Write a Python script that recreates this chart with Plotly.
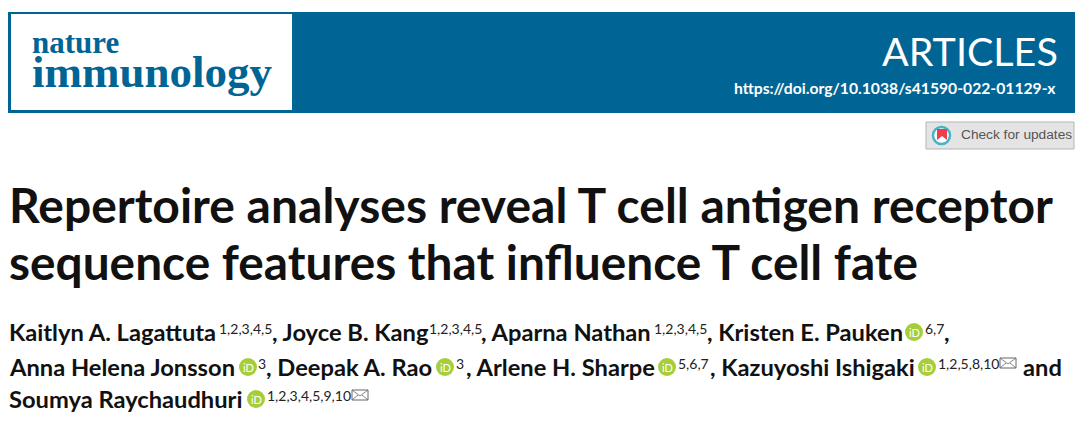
import plotly.graph_objects as go

BLUE = "#006595"
GREEN = "#a6ce39"

journal_top = "nature"
journal_bottom = "immunology"
section = "ARTICLES"
doi = "https://doi.org/10.1038/s41590-022-01129-x"
updates = "Check for updates"
title_lines = [
    "Repertoire analyses reveal T cell antigen receptor",
    "sequence features that influence T cell fate",
]
author_names = [
    "Kaitlyn A. Lagattuta", ", Joyce B. Kang", ", Aparna Nathan", ", Kristen E. Pauken",
    "Anna Helena Jonsson", ", Deepak A. Rao", ", Arlene H. Sharpe", ", Kazuyoshi Ishigaki",
    "Soumya Raychaudhuri",
]
author_affils = [
    "1,2,3,4,5", "1,2,3,4,5", "1,2,3,4,5", "6,7",
    "3", "3", "5,6,7", "1,2,5,8,10",
    "1,2,3,4,5,9,10",
]

fig = go.Figure()


def add_text(x, y, text, size, color="#111111", family="Lato", bold=False, anchor="left"):
    if bold:
        text = f"<b>{text}</b>"
    fig.add_annotation(x=x, y=y, text=text, showarrow=False, xanchor=anchor, yanchor="middle",
                       align="left", font=dict(size=size, color=color, family=family),
                       borderpad=0, borderwidth=0)


def add_box(x0, y0, x1, y1, fill, line=None, width=0):
    fig.add_shape(type="rect", x0=x0, y0=y0, x1=x1, y1=y1, fillcolor=fill,
                  line=dict(color=line or fill, width=width), layer="below")


def add_orcid(x, y):
    fig.add_shape(type="circle", x0=x - 9, y0=y - 9, x1=x + 9, y1=y + 9, fillcolor=GREEN,
                  line=dict(width=0), layer="below")
    add_text(x, y, "iD", 11, color="white", family="Lato", anchor="center")


def add_mail(x, y):
    fig.add_shape(type="rect", x0=x, y0=y - 5, x1=x + 16, y1=y + 5, fillcolor="white",
                  line=dict(color="#666666", width=1), layer="below")
    fig.add_shape(type="path", path=f"M {x} {y-5} L {x+8} {y+1} L {x+16} {y-5} M {x} {y+5} L {x+6} {y} M {x+16} {y+5} L {x+10} {y}",
                  line=dict(color="#666666", width=0.8), layer="below")


# banner
add_box(8, 12, 1075, 113, BLUE)
add_box(11, 14, 292, 110, "white")
# the two journal lines share one text so their boxes stay clear of each other
add_text(32, 61,
         f"<b><span style='font-size:31px'>{journal_top}</span><br>"
         f"<span style='font-size:45px'>{journal_bottom}</span></b>",
         26, color=BLUE, family="Liberation Serif")
add_text(1058, 50, section, 39.5, color="white", anchor="right")
add_text(1056, 88, doi, 15.7, color="white", bold=True, anchor="right")

# updates button
add_box(926, 122, 1074, 149, "#e4e4e4", line="#b5b5b5", width=1)
fig.add_shape(type="circle", x0=933, y0=127, x1=950, y1=144, fillcolor="white",
              line=dict(color="#45b4c6", width=2.5), layer="below")
fig.add_shape(type="path", path="M 937 129 L 947 129 L 947 140 L 942 136 L 937 140 Z",
              fillcolor="#ef3e4a", line=dict(width=0), layer="below")
add_text(961, 134, updates, 13.7, color="#555555", family="Liberation Sans")

# title
add_text(9, 204, title_lines[0], 48, bold=True)
add_text(9, 261, title_lines[1], 47.8, bold=True)

# authors, one row of name / icon / affiliation pieces at a time
name_x = [9, 272, 481, 707, 9, 266, 466, 710, 9]
name_y = [332, 332, 332, 332, 367, 367, 367, 367, 399]
sup_x = [219, 429, 654, 925, 258, 456, 678, 938, 267]
orcid_x = [None, None, None, 914, 248, 445, 667, 927, 256]
for i, name in enumerate(author_names):
    add_text(name_x[i], name_y[i], name, 23.7, bold=True)
    add_text(sup_x[i], name_y[i] - 4, author_affils[i], 14, color="#222222")
    if orcid_x[i] is not None:
        add_orcid(orcid_x[i], name_y[i])
add_text(944, 332, ",", 23.7, bold=True)
add_text(1023, 367, "and", 23.7, bold=True)
add_mail(1000, 363)
add_mail(352, 395)

fig.update_xaxes(range=[0, 1080], visible=False, fixedrange=True)
fig.update_yaxes(range=[426, 0], visible=False, fixedrange=True)
fig.update_layout(width=1080, height=426, margin=dict(l=0, r=0, t=0, b=0),
                  plot_bgcolor="white", paper_bgcolor="white", showlegend=False)

fig.write_html("out.html", config={"displayModeBar": False},
               post_script="document.body.style.margin='0';")
